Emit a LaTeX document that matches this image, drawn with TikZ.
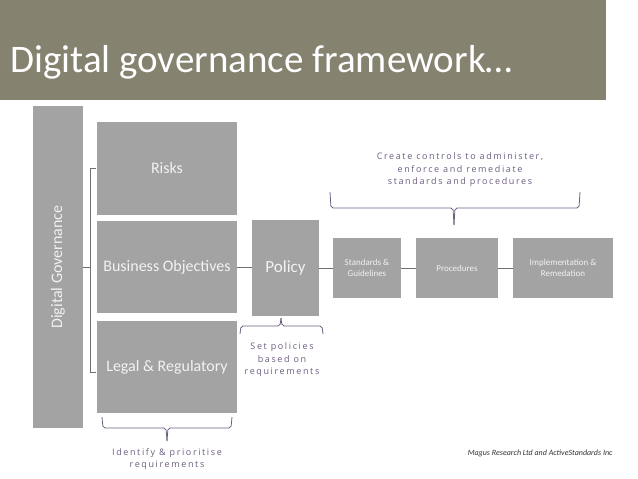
\documentclass[tikz,border=0pt]{standalone}
\usepackage{fontspec}
\setmainfont{Open Sans}
\newfontfamily\spaced[LetterSpace=18]{Open Sans}
\newfontfamily\lightf{Carlito}
\begin{document}
\begin{tikzpicture}[x=1pt,y=-1pt,
  box/.style={fill=boxg,draw=none,inner sep=0pt,text=boxt,font=\lightf},
  ln/.style={draw=lineg,line width=0.7pt},
  br/.style={draw=brc,line width=0.8pt,rounded corners=2pt},
  note/.style={text=brc,font=\spaced\fontsize{9}{12.5}\selectfont,align=center}]
\definecolor{boxg}{HTML}{A3A3A3}
\definecolor{boxt}{HTML}{F2F2F2}
\definecolor{hdr}{HTML}{858270}
\definecolor{lineg}{HTML}{707070}
\definecolor{brc}{HTML}{6E5E82}
\useasboundingbox (0,0) rectangle (638,479);
\fill[white] (0,0) rectangle (638,479);
\fill[hdr] (0,0) rectangle (606,100);
\node[anchor=west,text=white,font=\lightf\fontsize{39}{42}\selectfont,inner sep=0pt] (title) at (10,62) {Digital governance framework…};
\node[box,minimum width=50pt,minimum height=322pt] (dg) at (58,267) {};
\node[rotate=90,text=boxt,font=\lightf\fontsize{16}{18}\selectfont] (dgt) at (dg.center) {Digital Governance};
\node[box,minimum width=140pt,minimum height=93pt,font=\lightf\fontsize{16}{18}\selectfont] (risk) at (167,168.5) {Risks};
\node[box,minimum width=140pt,minimum height=92pt,font=\lightf\fontsize{16}{18}\selectfont] (bus) at (167,267) {Business Objectives};
\node[box,minimum width=140pt,minimum height=92pt,font=\lightf\fontsize{16}{18}\selectfont] (legal) at (167,367) {Legal \& Regulatory};
\node[box,minimum width=67pt,minimum height=96pt,font=\lightf\fontsize{17}{19}\selectfont] (pol) at (285.5,268) {Policy};
\node[box,minimum width=68pt,minimum height=60pt,align=center,font=\lightf\fontsize{9}{11}\selectfont] (std) at (367,268) {Standards \&\\Guidelines};
\node[box,minimum width=82pt,minimum height=60pt,font=\lightf\fontsize{9}{11}\selectfont] (proc) at (457,268) {Procedures};
\node[box,minimum width=100pt,minimum height=60pt,align=center,font=\lightf\fontsize{9}{11}\selectfont] (impl) at (563,268) {Implementation \&\\Remedation};
% connectors
\coordinate (bk) at (90,267);
\draw[ln] (dg.east |- bk) -- (bk);
\draw[ln] (96,168) -- (90,168) -- (90,372) -- (96,372);
\draw[ln] (bus.east) -- (pol.west |- bus.east);
\draw[ln] (pol.east |- std.west) -- (std.west);
\draw[ln] (std.east) -- (proc.west);
\draw[ln] (proc.east) -- (impl.west);
% braces
\draw[br] (102,417) -- (103,428) -- (166,428) -- (167,441);
\draw[br] (167,441) -- (168,428) -- (231,428) -- (232,417);
\draw[br] (240,334) -- (241,326) -- (280,326) -- (281,318);
\draw[br] (281,318) -- (282,326) -- (322,326) -- (323,334);
\draw[br] (330,192) -- (331,208) -- (453,208) -- (454,225);
\draw[br] (454,225) -- (455,208) -- (579,208) -- (580,192);
\node[note] (n1) at (167,459) {Identify \& prioritise\\requirements};
\node[note] (n2) at (282,360) {Set policies\\based on\\requirements};
\node[note] (n3) at (460,170) {Create controls to administer,\\enforce and remediate\\standards and procedures};
\node[anchor=east,text=black!80,font=\lightf\itshape\fontsize{8}{9}\selectfont] (ft) at (616,453) {Magus Research Ltd and ActiveStandards Inc};
\end{tikzpicture}
\end{document}
